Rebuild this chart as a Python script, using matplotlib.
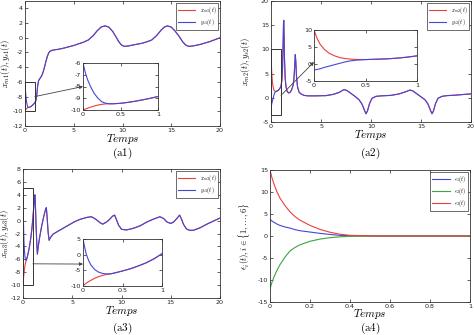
import matplotlib
matplotlib.use("Agg")
import matplotlib.pyplot as plt
from matplotlib.patches import Rectangle, ConnectionPatch

plt.rcParams["mathtext.fontset"] = "cm"
plt.rcParams["font.family"] = ["DejaVu Sans"]
plt.rcParams["axes.unicode_minus"] = False

RED = "#e8403c"
BLUE = "#4646d6"
GREEN = "#3fa33f"

# --- (a1) ---------------------------------------------------------------
t_a1 = [0, 0.03, 0.06, 0.1, 0.15, 0.2, 0.25, 0.3, 0.35, 0.4, 0.5, 0.6, 0.7,
        0.8, 0.9, 1.0, 1.1, 1.2, 1.3, 1.4, 1.55, 1.7, 1.85, 2.0, 2.15, 2.3,
        2.45, 2.6, 2.8, 3.0, 3.5, 4.0, 5.0, 6.0, 6.5, 7.0, 7.4, 7.8, 8.2,
        8.6, 9.0, 9.3, 9.6, 9.9, 10.2, 10.6, 11.0, 12.0, 12.5, 13.0, 13.5,
        14.0, 14.3, 14.6, 15.0, 15.4, 15.8, 16.2, 16.5, 16.8, 17.2, 18.0,
        19.0, 20.0]
ys1 = [-6.0, -6.8, -7.4, -8.0, -8.6, -9.0, -9.3, -9.42, -9.47, -9.47, -9.43,
       -9.35, -9.25, -9.13, -9.0, -8.85, -8.6, -7.9, -6.5, -5.8, -5.5, -5.2,
       -4.7, -4.0, -3.2, -2.5, -2.0, -1.8, -1.7, -1.65, -1.55, -1.4, -1.05,
       -0.6, -0.3, 0.3, 0.95, 1.45, 1.62, 1.45, 0.85, 0.2, -0.5, -1.0, -1.17,
       -1.12, -1.0, -0.75, -0.55, -0.3, 0.3, 1.1, 1.45, 1.62, 1.45, 0.9, 0.2,
       -0.6, -1.0, -1.17, -1.12, -0.9, -0.5, 0.0]
xm1 = [-10.0, -9.92, -9.85, -9.76, -9.66, -9.58, -9.52, -9.48] + ys1[8:]

# --- (a2) ---------------------------------------------------------------
t_a2 = [0, 0.03, 0.06, 0.1, 0.15, 0.2, 0.25, 0.3, 0.35, 0.4, 0.5, 0.6, 0.7,
        0.8, 0.9, 1.0, 1.08, 1.15, 1.2, 1.25, 1.27, 1.3, 1.35, 1.42, 1.5,
        1.6, 1.75, 1.9, 2.05, 2.2, 2.3, 2.38, 2.43, 2.48, 2.55, 2.65, 2.8,
        3.0, 3.3, 3.7, 4.5, 5.5, 6.2, 6.8, 7.3, 7.6, 8.0, 8.4, 8.8, 9.1,
        9.35, 9.5, 9.65, 9.85, 10.1, 10.5, 11.0, 12.0, 12.8, 13.4, 13.9,
        14.2, 14.6, 15.0, 15.4, 15.7, 15.95, 16.1, 16.25, 16.45, 16.7, 17.1,
        17.6, 18.5, 19.3, 20.0]
ys2 = [-1.8, -1.6, -1.4, -1.0, -0.6, -0.2, 0.2, 0.6, 0.9, 1.1, 1.3, 1.4, 1.5,
       1.7, 2.0, 2.4, 3.5, 6.0, 10.0, 15.0, 16.0, 14.0, 8.0, 4.0, 2.3, 1.4,
       1.0, 1.1, 1.6, 2.5, 4.0, 7.0, 8.9, 7.5, 4.5, 2.3, 1.2, 0.8, 0.5,
       0.4, 0.4, 0.45, 0.7, 1.1, 1.7, 1.5, 0.9, 0.3, -0.4, -1.3, -2.6, -3.3,
       -2.7, -1.2, -0.1, 0.3, 0.4, 0.5, 0.8, 1.2, 1.6, 1.4, 0.8, 0.2, -0.4,
       -1.3, -2.6, -3.3, -2.7, -1.2, -0.1, 0.3, 0.45, 0.55, 0.7, 0.8]
xm2 = [10.0, 7.5, 5.8, 4.3, 3.1, 2.4, 1.9, 1.6, 1.45, 1.35] + ys2[10:]

# --- (a3) ---------------------------------------------------------------
t_a3 = [0, 0.02, 0.04, 0.07, 0.1, 0.15, 0.2, 0.25, 0.3, 0.35, 0.4, 0.5, 0.6,
        0.7, 0.8, 0.9, 1.0, 1.1, 1.2, 1.25, 1.32, 1.4, 1.46, 1.55, 1.7, 1.9,
        2.1, 2.3, 2.37, 2.45, 2.55, 2.65, 2.8, 3.05, 3.6, 4.4, 5.2, 5.8, 6.5,
        6.95, 7.4, 7.8, 8.1, 8.5, 8.8, 9.1, 9.3, 9.5, 9.7, 10.0, 10.5, 11.2,
        11.9, 12.6, 13.2, 13.9, 14.3, 14.6, 15.0, 15.3, 15.6, 15.9, 16.1,
        16.3, 16.6, 16.9, 17.3, 18.0, 18.6, 19.3, 20.0]
ys3 = [5.0, 2.5, 0.3, -1.8, -3.3, -4.8, -5.6, -6.0, -6.15, -6.1, -5.85, -5.2,
       -4.5, -3.6, -2.6, -1.3, 0.3, 2.2, 4.0, 3.0, -0.5, -3.5, -5.2, -4.0,
       -2.5, -0.8, 0.6, 1.8, 2.0, 0.5, -1.8, -3.05, -2.6, -2.1, -1.6, -0.9,
       -0.2, 0.2, 0.5, 0.6, 0.2, -0.3, -0.55, -0.2, 0.2, 0.7, 0.85, 0.1,
       -0.7, -1.35, -1.45, -1.2, -0.8, -0.2, 0.2, 0.6, 0.3, -0.2, -0.45,
       -0.2, 0.3, 0.85, 0.2, -0.6, -1.3, -1.5, -1.5, -1.1, -0.6, -0.1, 0.4]
xm3 = [-10.0, -9.5, -9.1, -8.6, -8.2, -7.5, -7.0, -6.6, -6.3, -6.12] + ys3[10:]

# --- (a4) ---------------------------------------------------------------
t_a4 = [0, 0.01, 0.02, 0.035, 0.05, 0.075, 0.1, 0.125, 0.15, 0.2, 0.25, 0.3,
        0.35, 0.4, 0.5, 0.6, 0.8, 1.0]
eps1 = [3.8, 3.4, 3.1, 2.7, 2.4, 2.05, 1.8, 1.45, 1.2, 0.9, 0.6, 0.35, 0.15,
        0.05, 0.01, 0, 0, 0]
eps2 = [-12.0, -10.5, -9.3, -7.8, -6.5, -4.8, -3.4, -2.6, -2.0, -1.2, -0.7,
        -0.38, -0.18, -0.08, -0.02, 0, 0, 0]
eps3 = [15.0, 13.2, 11.8, 10.0, 8.6, 6.9, 5.5, 4.4, 3.6, 2.4, 1.5, 0.85,
        0.4, 0.15, 0.03, 0, 0, 0]

W, H = 474, 335


def box(x0, y0, x1, y1):
    """pixel box (left, top, right, bottom) -> figure fraction rect"""
    return [x0 / W, 1 - y1 / H, (x1 - x0) / W, (y1 - y0) / H]


def style(ax, size=4.6):
    ax.tick_params(direction="in", top=True, right=True, labelsize=size,
                   length=2, width=0.5, pad=1.5, colors="#222222")
    for s in ax.spines.values():
        s.set_linewidth(0.6)
        s.set_color("#333333")


def zoom_link(fig, ax, ins, rect, start, end):
    ax.add_patch(Rectangle((rect[0], rect[1]), rect[2], rect[3], fill=False,
                           ec="#333333", lw=0.7, zorder=5))
    con = ConnectionPatch(xyA=start, coordsA=ax.transData, xyB=end,
                          coordsB=ins.transData, arrowstyle="-|>",
                          mutation_scale=5, color="#444444", lw=0.6,
                          zorder=6)
    fig.add_artist(con)


fig = plt.figure(figsize=(4.74, 3.35), dpi=100)

panels = [
    # main box, ylim, yticks, ylabel, caption
    dict(px=(25, 1, 220, 126), ylim=(-12, 5), yt=range(-12, 5, 2),
         yl=r"$x_{m1}(t),y_{s1}(t)$", cap=r"$\mathrm{(a1)}$",
         cx=122, cy=153, ylx=6, lp=-0.5),
    dict(px=(271, 1, 471, 122), ylim=(-5, 20), yt=range(-5, 21, 5),
         yl=r"$x_{m2}(t),y_{s2}(t)$", cap=r"$\mathrm{(a2)}$",
         cx=370, cy=153, ylx=245, lp=-0.5),
    dict(px=(23, 169, 220, 298), ylim=(-12, 8), yt=range(-12, 9, 2),
         yl=r"$x_{m3}(t),y_{s3}(t)$", cap=r"$\mathrm{(a3)}$",
         cx=122, cy=328, ylx=5, lp=-0.5),
    dict(px=(270, 170, 470, 302), ylim=(-15, 15), yt=range(-15, 16, 5),
         yl=r"$\epsilon_i(t),i\in\{1,\ldots,6\}$", cap=r"$\mathrm{(a4)}$",
         cx=370, cy=328, ylx=244, lp=-1.5),
]

axes = []
for p in panels:
    ax = fig.add_axes(box(*p["px"]))
    style(ax)
    ax.set_ylim(*p["ylim"])
    ax.set_yticks(list(p["yt"]))
    ax.set_xlabel(r"$Temps$", fontsize=8, labelpad=p["lp"])
    cy_mid = 1 - (p["px"][1] + p["px"][3]) / 2 / H
    fig.text(p["ylx"] / W, cy_mid, p["yl"], rotation=90, fontsize=6.2,
             ha="center", va="center")
    fig.text(p["cx"] / W, 1 - p["cy"] / H, p["cap"], fontsize=8,
             ha="center", va="center")
    axes.append(ax)

leg_kw = dict(fontsize=4, handlelength=3.2, borderpad=0.35, labelspacing=0.2,
              fancybox=False, edgecolor="#333333", framealpha=1,
              borderaxespad=0.3)

# (a1)
ax = axes[0]
ax.plot(t_a1, xm1, color=RED, lw=0.8, label=r"$x_{m1}(t)$")
ax.plot(t_a1, ys1, color=BLUE, lw=0.8, label=r"$y_{s1}(t)$")
ax.set_xlim(0, 20)
ax.set_xticks([0, 5, 10, 15, 20])
ax.legend(loc="upper right", **leg_kw).get_frame().set_linewidth(0.5)
ins = fig.add_axes(box(83, 63, 158, 110))
ins.plot(t_a1, xm1, color=RED, lw=0.8)
ins.plot(t_a1, ys1, color=BLUE, lw=0.8)
ins.set_xlim(0, 1)
ins.set_ylim(-10, -6)
ins.set_xticks([0, 0.5, 1])
ins.set_xticklabels(["0", "0.5", "1"])
ins.set_yticks([-10, -9, -8, -7, -6])
style(ins)
zoom_link(fig, ax, ins, (0, -10, 1, 4), (1, -8), (0, -8))

# (a2)
ax = axes[1]
ax.plot(t_a2, xm2, color=RED, lw=0.8, label=r"$x_{m2}(t)$")
ax.plot(t_a2, ys2, color=BLUE, lw=0.8, label=r"$y_{s2}(t)$")
ax.set_xlim(0, 20)
ax.set_xticks([0, 5, 10, 15, 20])
ax.legend(loc="upper right", **leg_kw).get_frame().set_linewidth(0.5)
ins = fig.add_axes(box(314, 30, 417, 81))
ins.plot(t_a2, xm2, color=RED, lw=0.8)
ins.plot(t_a2, ys2, color=BLUE, lw=0.8)
ins.set_xlim(0, 1)
ins.set_ylim(-5, 10)
ins.set_xticks([0, 0.5, 1])
ins.set_xticklabels(["0", "0.5", "1"])
ins.set_yticks([-5, 0, 5, 10])
style(ins)
zoom_link(fig, ax, ins, (0, -3.5, 1, 13.5), (1, 0.5), (0, 0.6))

# (a3)
ax = axes[2]
ax.plot(t_a3, xm3, color=RED, lw=0.8, label=r"$x_{m3}(t)$")
ax.plot(t_a3, ys3, color=BLUE, lw=0.8, label=r"$y_{s3}(t)$")
ax.set_xlim(0, 20)
ax.set_xticks([0, 5, 10, 15, 20])
ax.legend(loc="upper right", **leg_kw).get_frame().set_linewidth(0.5)
ins = fig.add_axes(box(83, 239, 162, 286))
ins.plot(t_a3, xm3, color=RED, lw=0.8)
ins.plot(t_a3, ys3, color=BLUE, lw=0.8)
ins.set_xlim(0, 1)
ins.set_ylim(-10, 5)
ins.set_xticks([0, 0.5, 1])
ins.set_xticklabels(["0", "0.5", "1"])
ins.set_yticks([-10, -5, 0, 5])
style(ins)
zoom_link(fig, ax, ins, (0, -10, 1, 15), (1, -6.7), (0, -3))

# (a4)
ax = axes[3]
ax.plot(t_a4, eps1, color=BLUE, lw=0.8, label=r"$\epsilon_1(t)$")
ax.plot(t_a4, eps2, color=GREEN, lw=0.8, label=r"$\epsilon_2(t)$")
ax.plot(t_a4, eps3, color=RED, lw=0.8, label=r"$\epsilon_3(t)$")
ax.set_xlim(0, 1)
ax.set_xticks([0, 0.2, 0.4, 0.6, 0.8, 1])
ax.set_xticklabels(["0", "0.2", "0.4", "0.6", "0.8", "1"])
ax.legend(loc="upper right", **leg_kw).get_frame().set_linewidth(0.5)

fig.savefig("out.png", dpi=100)
